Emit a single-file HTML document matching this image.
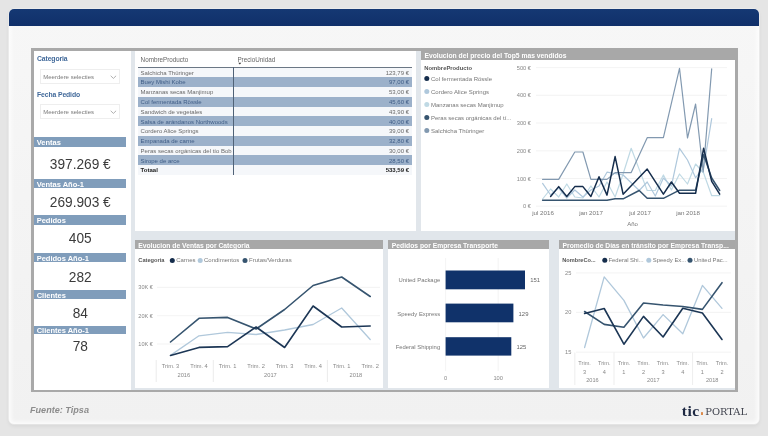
<!DOCTYPE html><html lang="es"><head><meta charset="utf-8"><title>Dashboard</title><style>
html,body{margin:0;padding:0}
body{width:768px;height:436px;overflow:hidden;background:#e5e5e5;position:relative;font-family:'Liberation Sans',sans-serif;}
div{position:absolute;box-sizing:border-box}
.card{left:9px;top:9px;width:750px;height:415px;background:linear-gradient(#f7f7f7,#f4f4f4 45%,#f1f1f1);border-radius:5px;box-shadow:inset 0 0 4px 2px rgba(255,255,255,.85),0 0 0 .6px rgba(255,255,255,.6),0 2px 4px rgba(0,0,0,.07)}
.hdr{left:9px;top:9px;width:750px;height:16.6px;background:linear-gradient(#153873,#10306a);border-radius:5px 5px 0 0}
.frame{left:31px;top:48px;width:706.5px;height:344px;background:#a9a9a9}
.inner{left:33.5px;top:50.5px;width:701.2px;height:339.4px;background:#e1e6eb}
.w{background:#fff}
.band{background:#809dbb;left:33.5px;width:92.5px;color:#fff;font-weight:700;font-size:7.5px;line-height:9px;padding-left:3.2px;white-space:nowrap;overflow:hidden}
.kv{left:33.5px;width:92.5px;text-align:center;font-size:14.2px;color:#3b3b3b;line-height:14px;white-space:nowrap;transform:scaleX(.965)}
.sl{left:36.5px;color:#41699a;font-weight:700;font-size:7.3px;line-height:8px;white-space:nowrap;letter-spacing:-.12px;transform:scaleX(.935);transform-origin:0 0}
.dd{left:39.7px;width:80px;height:14.8px;border:1px solid #eeeeee;background:#fff;color:#7a7a7a;font-size:6px;line-height:14.6px;padding-left:2.6px;white-space:nowrap}
.th{background:#a8a8a8;color:#fff;font-weight:700;font-size:6.75px;line-height:9px;white-space:nowrap;padding-left:3.6px;overflow:hidden}
.tr{left:137.8px;width:274.4px;height:9.8px;font-size:6px;line-height:9.8px;color:#6a6a6a;white-space:nowrap}
.tr.h{background:#9cb1ca;color:#3f5d86}
.tr span{position:absolute;left:2.8px;top:1.3px}
.tr b{position:absolute;right:3.2px;top:1.3px;font-weight:400}
.tr.t{color:#222;font-weight:700}
.tr.t b{font-weight:700}
svg{position:absolute;left:0;top:0}
.src{left:30px;top:404.9px;font:italic 700 9.1px 'Liberation Sans',sans-serif;color:#8c8c8c;white-space:nowrap}
.tic{left:681.8px;top:401.8px;font:700 15.6px 'Liberation Serif',serif;color:#1d2842;white-space:nowrap;letter-spacing:.45px}
.dot{left:700.7px;top:412.3px;width:2.7px;height:2.7px;background:#dd8a4a;border-radius:.6px}
.portal{left:705.3px;top:406.2px;font:400 9.9px 'DejaVu Serif',serif;color:#3c3f4a;white-space:nowrap;letter-spacing:0}
</style></head><body>
<div class="card"></div><div class="hdr"></div>
<div class="frame"></div><div class="inner"></div>
<div class="w" style="left:33.5px;top:50.5px;width:97.8px;height:339.7px"></div>
<div class="w" style="left:134.6px;top:50.5px;width:281.2px;height:180.5px"></div>
<div class="w" style="left:420.8px;top:50.5px;width:313.9px;height:180.5px"></div>
<div class="w" style="left:134.6px;top:240.0px;width:248.4px;height:147.5px"></div>
<div class="w" style="left:388.2px;top:240.0px;width:161.1px;height:147.5px"></div>
<div class="w" style="left:559.0px;top:240.0px;width:175.7px;height:147.5px"></div>
<div class="th" style="left:420.8px;top:48.0px;width:316.7px;height:11.7px;line-height:16.7px">Evolucion del precio del Top5 mas vendidos</div>
<div class="th" style="left:134.6px;top:240.1px;width:248.4px;height:8.8px;line-height:11.4px">Evolucion de Ventas por Categoria</div>
<div class="th" style="left:388.2px;top:240.1px;width:161.1px;height:9.2px;line-height:11.8px">Pedidos por Empresa Transporte</div>
<div class="th" style="left:559.0px;top:240.1px;width:175.7px;height:8.8px;line-height:11.4px">Promedio de Días en tránsito por Empresa Transp...</div>
<div class="sl" style="top:55.3px">Categoria</div>
<div class="dd" style="top:69px">Meerdere selecties</div>
<div class="sl" style="top:90.7px">Fecha Pedido</div>
<div class="dd" style="top:104.2px">Meerdere selecties</div>
<div class="band" style="top:137.2px;height:9.6px;line-height:11.8px">Ventas</div>
<div class="kv" style="top:156.5px">397.269 €</div>
<div class="band" style="top:178.8px;height:9.1px;line-height:11.3px">Ventas Año-1</div>
<div class="kv" style="top:195.2px">269.903 €</div>
<div class="band" style="top:215.2px;height:9.5px;line-height:11.7px">Pedidos</div>
<div class="kv" style="top:231.1px">405</div>
<div class="band" style="top:252.5px;height:9.3px;line-height:11.5px">Pedidos Año-1</div>
<div class="kv" style="top:270.2px">282</div>
<div class="band" style="top:290.1px;height:9.1px;line-height:11.3px">Clientes</div>
<div class="kv" style="top:306.1px">84</div>
<div class="band" style="top:325.5px;height:8.7px;line-height:10.9px">Clientes Año-1</div>
<div class="kv" style="top:338.7px">78</div>
<div style="left:137.8px;top:67.4px;width:274.4px;height:107.8px;background:#f5f7fa"></div>
<div class="tr" style="top:54.0px;color:#666;font-size:6.3px"><span>NombreProducto</span><span style="left:99.6px">PrecioUnidad</span></div>
<div class="tr" style="top:67.40px"><span>Salchicha Thüringer</span><b>123,79 €</b></div>
<div class="tr h" style="top:77.18px"><span>Buey Mishi Kobe</span><b>97,00 €</b></div>
<div class="tr" style="top:86.96px"><span>Manzanas secas Manjimup</span><b>53,00 €</b></div>
<div class="tr h" style="top:96.74px"><span>Col fermentada Rössle</span><b>45,60 €</b></div>
<div class="tr" style="top:106.52px"><span>Sandwich de vegetales</span><b>43,90 €</b></div>
<div class="tr h" style="top:116.30px"><span>Salsa de arándanos Northwoods</span><b>40,00 €</b></div>
<div class="tr" style="top:126.08px"><span>Cordero Alice Springs</span><b>39,00 €</b></div>
<div class="tr h" style="top:135.86px"><span>Empanada de carne</span><b>32,80 €</b></div>
<div class="tr" style="top:145.64px"><span>Peras secas orgánicas del tío Bob</span><b>30,00 €</b></div>
<div class="tr h" style="top:155.42px"><span>Sirope de arce</span><b>28,50 €</b></div>
<div class="tr t" style="top:165.20px"><span>Totaal</span><b>533,59 €</b></div>
<div style="left:137.8px;top:66.9px;width:274.4px;height:1px;background:#6b7785"></div>
<div style="left:233.2px;top:67px;width:1px;height:108.3px;background:#506277"></div>
<svg width="768" height="436" viewBox="0 0 768 436" font-family="Liberation Sans, sans-serif"><path d="M110.7 75.8 l2.7 2.6 l2.7 -2.6" fill="none" stroke="#9a9a9a" stroke-width=".8"/><path d="M110.7 110.8 l2.7 2.6 l2.7 -2.6" fill="none" stroke="#9a9a9a" stroke-width=".8"/><path d="M238.3 62.8 h3 l-1.5 1.8 z" fill="#333"/><text x="424.3" y="70.2" font-size="5.85" fill="#555" text-anchor="start" font-weight="700">NombreProducto</text><circle cx="426.8" cy="78.4" r="2.5" fill="#152d4c"/><text x="431.0" y="80.5" font-size="6" fill="#777" text-anchor="start">Col fermentada Rössle</text><circle cx="426.8" cy="91.5" r="2.5" fill="#afc8dc"/><text x="431.0" y="93.5" font-size="6" fill="#777" text-anchor="start">Cordero Alice Springs</text><circle cx="426.8" cy="104.5" r="2.5" fill="#bfd9e4"/><text x="431.0" y="106.6" font-size="6" fill="#777" text-anchor="start">Manzanas secas Manjimup</text><circle cx="426.8" cy="117.6" r="2.5" fill="#36546f"/><text x="431.0" y="119.7" font-size="6" fill="#777" text-anchor="start">Peras secas orgánicas del tí...</text><circle cx="426.8" cy="130.6" r="2.5" fill="#8299b0"/><text x="431.0" y="132.7" font-size="6" fill="#777" text-anchor="start">Salchicha Thüringer</text><path d="M536.0 206.2 H727.0" stroke="#f0f0f0" stroke-width=".8"/><text x="531.0" y="208.2" font-size="5.7" fill="#888" text-anchor="end">0 €</text><path d="M536.0 178.5 H727.0" stroke="#f0f0f0" stroke-width=".8"/><text x="531.0" y="180.5" font-size="5.7" fill="#888" text-anchor="end">100 €</text><path d="M536.0 150.8 H727.0" stroke="#f0f0f0" stroke-width=".8"/><text x="531.0" y="152.8" font-size="5.7" fill="#888" text-anchor="end">200 €</text><path d="M536.0 123.0 H727.0" stroke="#f0f0f0" stroke-width=".8"/><text x="531.0" y="125.0" font-size="5.7" fill="#888" text-anchor="end">300 €</text><path d="M536.0 95.3 H727.0" stroke="#f0f0f0" stroke-width=".8"/><text x="531.0" y="97.3" font-size="5.7" fill="#888" text-anchor="end">400 €</text><path d="M536.0 67.6 H727.0" stroke="#f0f0f0" stroke-width=".8"/><text x="531.0" y="69.6" font-size="5.7" fill="#888" text-anchor="end">500 €</text><text x="543.0" y="214.6" font-size="6.2" fill="#777" text-anchor="middle">jul 2016</text><text x="591.0" y="214.6" font-size="6.2" fill="#777" text-anchor="middle">jan 2017</text><text x="640.0" y="214.6" font-size="6.2" fill="#777" text-anchor="middle">jul 2017</text><text x="688.0" y="214.6" font-size="6.2" fill="#777" text-anchor="middle">jan 2018</text><text x="632.5" y="226.0" font-size="6" fill="#777" text-anchor="middle">Año</text><polyline points="542.6,199.0 550.6,189.0 558.7,197.0 566.8,184.0 574.8,197.0 582.9,198.0 590.9,186.0 599.0,197.0 607.0,182.0 615.1,197.0 623.1,174.0 631.2,148.3 639.2,169.4 647.2,190.5 655.3,190.5 663.4,175.0 671.4,190.0 679.5,174.0 687.5,184.0 695.6,164.0 703.6,173.0 711.7,195.7 719.7,195.7" fill="none" stroke="#bfd9e4" stroke-width="1.2" stroke-linejoin="round" stroke-linecap="round"/><polyline points="542.6,183.4 550.6,195.0 558.7,188.0 566.8,198.0 574.8,190.0 582.9,197.0 590.9,190.0 599.0,186.0 607.0,172.2 623.1,175.0 639.2,190.5 647.2,182.0 655.3,196.0 663.4,178.0 671.4,186.0 679.5,148.3 687.5,160.0 695.6,177.7 703.6,168.0 711.7,118.7" fill="none" stroke="#afc8dc" stroke-width="1.2" stroke-linejoin="round" stroke-linecap="round"/><polyline points="542.6,179.4 550.6,179.4 558.7,179.4 574.8,152.0 582.9,152.0 590.9,179.4 599.0,179.4 607.0,179.4 615.1,172.6 623.1,172.6 631.2,172.6 647.2,137.7 655.3,137.7 663.4,137.7 679.5,68.3 687.5,138.0 695.6,104.0 703.2,172.0 711.7,68.8" fill="none" stroke="#8299b0" stroke-width="1.2" stroke-linejoin="round" stroke-linecap="round"/><polyline points="542.6,200.2 607.0,200.3 615.1,198.8 623.1,198.8 639.2,190.5 647.2,198.3 663.4,198.3 679.5,190.2 695.6,190.2 703.6,154.8 711.7,178.0 719.7,190.5" fill="none" stroke="#36546f" stroke-width="1.5" stroke-linejoin="round" stroke-linecap="round"/><polyline points="550.6,196.5 558.7,186.6 566.8,196.5 574.8,186.6 582.9,186.6 590.9,196.5 599.0,176.8 607.0,195.1 615.1,156.6 623.1,194.2 647.2,169.1 663.4,194.2 671.4,182.0 679.5,193.3 695.6,193.3 703.6,148.3 711.7,181.4 719.7,194.2" fill="none" stroke="#152d4c" stroke-width="1.5" stroke-linejoin="round" stroke-linecap="round"/><text x="138.3" y="262.0" font-size="5.7" fill="#555" text-anchor="start" font-weight="700">Categoria</text><circle cx="172.3" cy="260.4" r="2.5" fill="#152d4c"/><text x="176.2" y="262.0" font-size="6" fill="#777" text-anchor="start">Carnes</text><circle cx="200.2" cy="260.4" r="2.5" fill="#b0c8db"/><text x="204.0" y="262.0" font-size="6" fill="#777" text-anchor="start">Condimentos</text><circle cx="245.0" cy="260.4" r="2.5" fill="#36546f"/><text x="249.0" y="262.0" font-size="6" fill="#777" text-anchor="start">Frutas/Verduras</text><path d="M157.0 287.4 H380.0" stroke="#f0f0f0" stroke-width=".8"/><text x="138.3" y="289.4" font-size="5.6" fill="#888" text-anchor="start">30K €</text><path d="M157.0 315.7 H380.0" stroke="#f0f0f0" stroke-width=".8"/><text x="138.3" y="317.7" font-size="5.6" fill="#888" text-anchor="start">20K €</text><path d="M157.0 344.0 H380.0" stroke="#f0f0f0" stroke-width=".8"/><text x="138.3" y="346.0" font-size="5.6" fill="#888" text-anchor="start">10K €</text><text x="170.5" y="368.0" font-size="5.7" fill="#888" text-anchor="middle">Trim. 3</text><text x="199.0" y="368.0" font-size="5.7" fill="#888" text-anchor="middle">Trim. 4</text><text x="227.6" y="368.0" font-size="5.7" fill="#888" text-anchor="middle">Trim. 1</text><text x="256.1" y="368.0" font-size="5.7" fill="#888" text-anchor="middle">Trim. 2</text><text x="284.6" y="368.0" font-size="5.7" fill="#888" text-anchor="middle">Trim. 3</text><text x="313.1" y="368.0" font-size="5.7" fill="#888" text-anchor="middle">Trim. 4</text><text x="341.7" y="368.0" font-size="5.7" fill="#888" text-anchor="middle">Trim. 1</text><text x="370.2" y="368.0" font-size="5.7" fill="#888" text-anchor="middle">Trim. 2</text><text x="183.8" y="377.4" font-size="5.7" fill="#888" text-anchor="middle">2016</text><text x="270.4" y="377.4" font-size="5.7" fill="#888" text-anchor="middle">2017</text><text x="355.9" y="377.4" font-size="5.7" fill="#888" text-anchor="middle">2018</text><path d="M156.2 360.0 V382.0" stroke="#e6e6e6" stroke-width=".8"/><path d="M213.3 360.0 V382.0" stroke="#e6e6e6" stroke-width=".8"/><path d="M327.4 360.0 V382.0" stroke="#e6e6e6" stroke-width=".8"/><polyline points="170.5,355.4 199.0,335.8 227.6,332.4 256.1,334.5 284.6,330.0 313.1,324.5 341.7,308.0 370.2,339.5" fill="none" stroke="#b0c8db" stroke-width="1.3" stroke-linejoin="round" stroke-linecap="round"/><polyline points="170.5,342.0 199.0,318.3 227.6,317.4 256.1,329.0 284.6,309.5 313.1,285.5 341.7,277.0 370.2,296.5" fill="none" stroke="#36546f" stroke-width="1.6" stroke-linejoin="round" stroke-linecap="round"/><polyline points="170.5,355.4 199.0,347.4 227.6,346.6 256.1,327.0 284.6,347.5 313.1,306.0 341.7,327.0 370.2,326.0" fill="none" stroke="#1c3655" stroke-width="1.6" stroke-linejoin="round" stroke-linecap="round"/><path d="M445.6 258.0 V371.0" stroke="#f0f0f0" stroke-width=".8"/><path d="M498.2 258.0 V371.0" stroke="#f0f0f0" stroke-width=".8"/><rect x="445.6" y="270.5" width="79.4" height="18.8" fill="#10326a"/><text x="440.2" y="282.4" font-size="5.9" fill="#777" text-anchor="end">United Package</text><text x="530.2" y="282.4" font-size="5.9" fill="#666" text-anchor="start">151</text><rect x="445.6" y="303.6" width="67.8" height="18.7" fill="#10326a"/><text x="440.2" y="315.5" font-size="5.9" fill="#777" text-anchor="end">Speedy Express</text><text x="518.6" y="315.5" font-size="5.9" fill="#666" text-anchor="start">129</text><rect x="445.6" y="337.2" width="65.7" height="18.4" fill="#10326a"/><text x="440.2" y="348.9" font-size="5.9" fill="#777" text-anchor="end">Federal Shipping</text><text x="516.5" y="348.9" font-size="5.9" fill="#666" text-anchor="start">125</text><text x="445.6" y="379.8" font-size="5.7" fill="#888" text-anchor="middle">0</text><text x="498.2" y="379.8" font-size="5.7" fill="#888" text-anchor="middle">100</text><text x="562.3" y="262.2" font-size="5.6" fill="#555" text-anchor="start" font-weight="700">NombreCo...</text><circle cx="604.8" cy="260.2" r="2.5" fill="#152d4c"/><text x="608.5" y="262.3" font-size="5.9" fill="#777" text-anchor="start">Federal Shi...</text><circle cx="648.8" cy="260.2" r="2.5" fill="#b0c8db"/><text x="652.8" y="262.3" font-size="5.9" fill="#777" text-anchor="start">Speedy Ex...</text><circle cx="690.0" cy="260.2" r="2.5" fill="#36546f"/><text x="693.9" y="262.3" font-size="5.9" fill="#777" text-anchor="start">United Pac...</text><path d="M576.0 272.9 H731.0" stroke="#f0f0f0" stroke-width=".8"/><text x="565.0" y="274.9" font-size="5.7" fill="#888" text-anchor="start">25</text><path d="M576.0 312.4 H731.0" stroke="#f0f0f0" stroke-width=".8"/><text x="565.0" y="314.4" font-size="5.7" fill="#888" text-anchor="start">20</text><path d="M576.0 352.2 H731.0" stroke="#f0f0f0" stroke-width=".8"/><text x="565.0" y="354.2" font-size="5.7" fill="#888" text-anchor="start">15</text><text x="584.6" y="365.3" font-size="5.6" fill="#888" text-anchor="middle">Trim.</text><text x="584.6" y="374.0" font-size="5.6" fill="#888" text-anchor="middle">3</text><text x="604.2" y="365.3" font-size="5.6" fill="#888" text-anchor="middle">Trim.</text><text x="604.2" y="374.0" font-size="5.6" fill="#888" text-anchor="middle">4</text><text x="623.9" y="365.3" font-size="5.6" fill="#888" text-anchor="middle">Trim.</text><text x="623.9" y="374.0" font-size="5.6" fill="#888" text-anchor="middle">1</text><text x="643.5" y="365.3" font-size="5.6" fill="#888" text-anchor="middle">Trim.</text><text x="643.5" y="374.0" font-size="5.6" fill="#888" text-anchor="middle">2</text><text x="663.1" y="365.3" font-size="5.6" fill="#888" text-anchor="middle">Trim.</text><text x="663.1" y="374.0" font-size="5.6" fill="#888" text-anchor="middle">3</text><text x="682.8" y="365.3" font-size="5.6" fill="#888" text-anchor="middle">Trim.</text><text x="682.8" y="374.0" font-size="5.6" fill="#888" text-anchor="middle">4</text><text x="702.4" y="365.3" font-size="5.6" fill="#888" text-anchor="middle">Trim.</text><text x="702.4" y="374.0" font-size="5.6" fill="#888" text-anchor="middle">1</text><text x="722.0" y="365.3" font-size="5.6" fill="#888" text-anchor="middle">Trim.</text><text x="722.0" y="374.0" font-size="5.6" fill="#888" text-anchor="middle">2</text><text x="592.4" y="382.0" font-size="5.6" fill="#888" text-anchor="middle">2016</text><text x="653.3" y="382.0" font-size="5.6" fill="#888" text-anchor="middle">2017</text><text x="712.2" y="382.0" font-size="5.6" fill="#888" text-anchor="middle">2018</text><path d="M574.8 352.5 V385.0" stroke="#e8e8e8" stroke-width=".8"/><path d="M614.0 352.5 V385.0" stroke="#e8e8e8" stroke-width=".8"/><path d="M692.6 352.5 V385.0" stroke="#e8e8e8" stroke-width=".8"/><polyline points="584.6,347.5 604.2,276.8 623.9,300.4 643.5,338.0 663.1,314.6 682.8,333.8 702.4,285.4 722.0,308.3" fill="none" stroke="#b0c8db" stroke-width="1.3" stroke-linejoin="round" stroke-linecap="round"/><polyline points="584.6,311.5 604.2,324.4 623.9,327.3 643.5,303.0 663.1,305.0 682.8,306.5 702.4,309.4 722.0,282.7" fill="none" stroke="#36546f" stroke-width="1.6" stroke-linejoin="round" stroke-linecap="round"/><polyline points="584.6,313.5 604.2,308.5 623.9,344.2 643.5,316.4 663.1,337.0 682.8,308.3 702.4,313.0 722.0,339.5" fill="none" stroke="#1c3655" stroke-width="1.6" stroke-linejoin="round" stroke-linecap="round"/></svg>
<div class="src">Fuente: Tipsa</div>
<div class="tic">tic</div><div class="dot"></div><div class="portal">PORTAL</div>
</body></html>
